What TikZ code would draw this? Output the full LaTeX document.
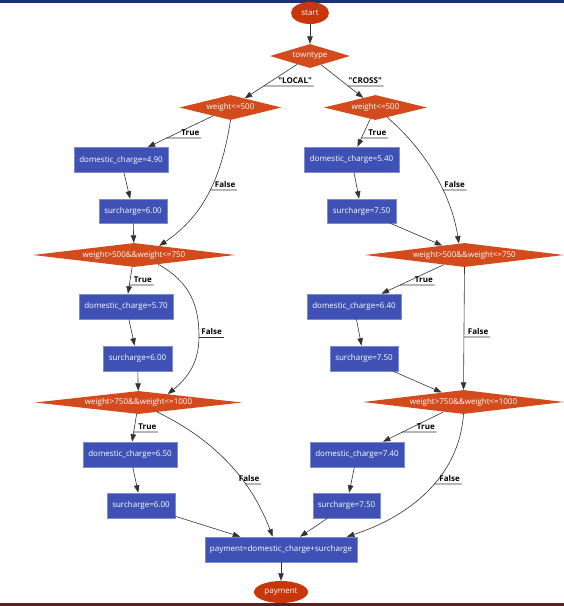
\documentclass[tikz,border=0pt]{standalone}
\usepackage{fontspec}
\setmainfont{Open Sans}
\usetikzlibrary{shapes.geometric,arrows.meta,intersections,calc}
\definecolor{boxblue}{HTML}{3F51B5}
\definecolor{boxline}{HTML}{7F8CD0}
\definecolor{dia}{HTML}{D34B1C}
\definecolor{ell}{HTML}{C8360A}
\definecolor{topbar}{HTML}{1D3270}
\definecolor{botbar}{HTML}{5A2121}
\definecolor{edgec}{HTML}{333333}
\newcommand\edgelabel[5]{%
  \path[name path=hz#5] (0,#2) -- (564,#2);
  \path[name intersections={of=#1 and hz#5, by={ip#5}}];
  \node[lbl] (lab#5) at (#3,#2) {#4};
  \draw[ul] (ip#5) -- (lab#5.south east);
}
\begin{document}
\begin{tikzpicture}[x=1pt,y=-1pt,
  every node/.style={font=\fontsize{8}{9.6}\selectfont},
  proc/.style={rectangle, fill=boxblue, draw=boxline, line width=0.6pt, text=white, inner sep=0pt, minimum height=25pt},
  dec/.style={diamond, fill=dia, draw=none, text=white, inner sep=0pt},
  term/.style={ellipse, fill=ell, draw=none, text=white, inner sep=0pt},
  arr/.style={draw=edgec, line width=0.6pt, -{Triangle[length=7.5pt,width=5.5pt]}},
  lbl/.style={text=black, font=\fontsize{8}{9.6}\selectfont\bfseries, inner xsep=1.5pt, inner ysep=2.8pt, text depth=0pt, anchor=south east},
  ul/.style={draw=edgec, line width=0.6pt},
]
\useasboundingbox (0,0) rectangle (564,606);
\fill[white] (0,0) rectangle (564,606);
\fill[topbar] (0,0) rectangle (564,2.5);
\fill[botbar] (0,603) rectangle (564,606);

\node[term, minimum width=38pt, minimum height=22pt] (start) at (310,13) {start};
\node[dec, minimum width=80pt, minimum height=24pt, aspect=3.33] (town) at (310,56) {towntype};
\node[dec, minimum width=102pt, minimum height=25pt, aspect=4.08] (wL) at (230.5,107.5) {weight<=500};
\node[dec, minimum width=103pt, minimum height=25pt, aspect=4.12] (wR) at (375.5,107.5) {weight<=500};
\node[proc, minimum width=94pt] (dcA) at (121,160) {domestic\_charge=4.90};
\node[proc, minimum width=68pt, minimum height=24pt] (sA) at (133,211) {surcharge=6.00};
\node[dec, minimum width=202pt, minimum height=24pt, aspect=8.42] (mL) at (134,255) {weight>500\&\&weight<=750};
\node[proc, minimum width=95pt] (dcB) at (351.5,159.5) {domestic\_charge=5.40};
\node[proc, minimum width=69pt, minimum height=24pt] (sB) at (361.5,211) {surcharge=7.50};
\node[dec, minimum width=199pt, minimum height=24pt, aspect=8.3] (mR) at (464.5,255) {weight>500\&\&weight<=750};
\node[proc, minimum width=94pt] (dcC) at (126,306.5) {domestic\_charge=5.70};
\node[proc, minimum width=69pt] (sC) at (137.5,358.5) {surcharge=6.00};
\node[dec, minimum width=207pt, minimum height=23pt, aspect=9] (hL) at (138.5,402.5) {weight>750\&\&weight<=1000};
\node[proc, minimum width=94pt] (dcD) at (354,306.5) {domestic\_charge=6.40};
\node[proc, minimum width=68pt] (sD) at (364,358.5) {surcharge=7.50};
\node[dec, minimum width=201pt, minimum height=24pt, aspect=8.4] (hR) at (463.5,402) {weight>750\&\&weight<=1000};
\node[proc, minimum width=94pt] (dcE) at (130,454.5) {domestic\_charge=6.50};
\node[proc, minimum width=68pt] (sE) at (141,505.5) {surcharge=6.00};
\node[proc, minimum width=94pt] (dcF) at (357,454.5) {domestic\_charge=7.40};
\node[proc, minimum width=67pt] (sF) at (346.5,505.5) {surcharge=7.50};
\node[proc, minimum width=152pt] (pay) at (281,549.5) {payment=domestic\_charge+surcharge};
\node[term, minimum width=54pt, minimum height=22pt] (pend) at (281,592) {payment};

\draw[arr] (start) -- (town);
\draw[arr, name path=eLoc] (town) -- (wL);
\draw[arr, name path=eCro] (town) -- (wR);
\draw[arr, name path=eT1] (wL) -- (dcA);
\draw[arr, name path=eF1] (wL.south) .. controls (222,175) and (205,215) .. (mL.20);
\draw[arr] (dcA) -- (sA);
\draw[arr] (sA) -- (mL);
\draw[arr, name path=eT2] (wR) -- (dcB);
\draw[arr, name path=eF2] (wR.-40) .. controls (423,148) and (451,192) .. (mR.116);
\draw[arr] (dcB) -- (sB);
\draw[arr] (sB) -- (mR);
\draw[arr, name path=eT3] (mL) -- (dcC);
\draw[arr] (mL.-21) .. controls (190,282) and (199,305) .. (199,337) coordinate (uF3) .. controls (199,365) and (185,380) .. (hL.16);
\draw[arr] (dcC) -- (sC);
\draw[arr] (sC) -- (hL);
\draw[arr, name path=eT4] (mR) -- (dcD);
\draw[arr, name path=eF4] (mR.south) -- (hR.north);
\draw[arr] (dcD) -- (sD);
\draw[arr] (sD) -- (hR);
\draw[arr, name path=eT5] (hL) -- (dcE);
\draw[arr, name path=eF5] (hL.-27) .. controls (225,445) and (255,490) .. (pay.123);
\draw[arr] (dcE) -- (sE);
\draw[arr] (sE) -- (pay);
\draw[arr, name path=eT6] (hR) -- (dcF);
\draw[arr, name path=eF6] (hR.south) .. controls (459,478) and (408,517) .. (pay.11);
\draw[arr] (dcF) -- (sF);
\draw[arr] (sF) -- (pay);
\draw[arr] (pay) -- (pend);

\edgelabel{eLoc}{86}{313.5}{\textquotedbl LOCAL\textquotedbl}{1}
\edgelabel{eCro}{86}{383.5}{\textquotedbl CROSS\textquotedbl}{2}
\edgelabel{eT1}{138}{201}{True}{3}
\edgelabel{eT2}{138}{388}{True}{4}
\edgelabel{eF1}{190}{237}{False}{5}
\edgelabel{eF2}{190}{466.5}{False}{6}
\edgelabel{eT3}{285}{153.5}{True}{7}
\edgelabel{eT4}{285}{434.5}{True}{8}
\node[lbl] (lab9) at (223.5,337) {False};
\draw[ul] (uF3) -- (lab9.south east);
\edgelabel{eF4}{337}{490}{False}{10}
\edgelabel{eT5}{432}{158}{True}{11}
\edgelabel{eT6}{432}{436.5}{True}{12}
\edgelabel{eF5}{484}{261}{False}{13}
\edgelabel{eF6}{484}{461.5}{False}{14}
\end{tikzpicture}
\end{document}
